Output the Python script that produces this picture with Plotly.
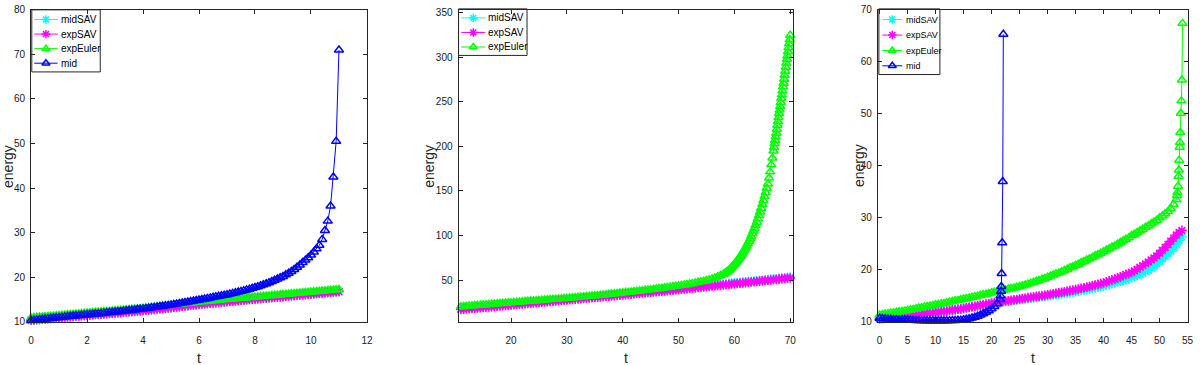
import plotly.graph_objects as go

# ---------------- data ----------------
# Panel 1: t = 0 .. 11, step 0.1
P1_T = [round(0.1 * i, 1) for i in range(111)]
P1_MIDSAV = [
    10.35, 10.41, 10.46, 10.52, 10.57, 10.63, 10.68, 10.74, 10.79, 10.85,
    10.90, 10.96, 11.01, 11.07, 11.12, 11.18, 11.23, 11.29, 11.34, 11.40,
    11.45, 11.50, 11.55, 11.61, 11.66, 11.71, 11.76, 11.81, 11.87, 11.92,
    11.97, 12.02, 12.08, 12.13, 12.18, 12.24, 12.29, 12.34, 12.39, 12.45,
    12.50, 12.56, 12.63, 12.69, 12.76, 12.82, 12.89, 12.95, 13.02, 13.08,
    13.15, 13.22, 13.30, 13.37, 13.45, 13.52, 13.60, 13.67, 13.75, 13.82,
    13.90, 13.96, 14.02, 14.08, 14.14, 14.20, 14.26, 14.32, 14.38, 14.44,
    14.50, 14.56, 14.62, 14.68, 14.74, 14.80, 14.86, 14.92, 14.98, 15.04,
    15.10, 15.15, 15.21, 15.26, 15.32, 15.37, 15.43, 15.48, 15.54, 15.59,
    15.65, 15.70, 15.76, 15.81, 15.87, 15.92, 15.98, 16.03, 16.09, 16.14,
    16.20, 16.25, 16.31, 16.36, 16.42, 16.47, 16.53, 16.58, 16.64, 16.69,
    16.75]
P1_EXPSAV = [
    10.38, 10.44, 10.49, 10.55, 10.60, 10.66, 10.71, 10.77, 10.82, 10.88,
    10.93, 10.99, 11.04, 11.10, 11.15, 11.21, 11.26, 11.32, 11.37, 11.43,
    11.48, 11.53, 11.59, 11.64, 11.69, 11.74, 11.80, 11.85, 11.90, 11.95,
    12.01, 12.06, 12.11, 12.17, 12.22, 12.28, 12.33, 12.38, 12.44, 12.49,
    12.55, 12.61, 12.68, 12.74, 12.81, 12.87, 12.94, 13.00, 13.07, 13.13,
    13.20, 13.27, 13.35, 13.42, 13.50, 13.57, 13.65, 13.72, 13.80, 13.87,
    13.95, 14.01, 14.07, 14.13, 14.19, 14.25, 14.31, 14.37, 14.43, 14.49,
    14.55, 14.61, 14.67, 14.73, 14.79, 14.85, 14.91, 14.97, 15.03, 15.09,
    15.15, 15.20, 15.26, 15.31, 15.37, 15.42, 15.48, 15.53, 15.59, 15.64,
    15.70, 15.75, 15.81, 15.86, 15.92, 15.97, 16.03, 16.08, 16.14, 16.19,
    16.25, 16.30, 16.36, 16.41, 16.47, 16.52, 16.58, 16.63, 16.69, 16.74,
    16.80]
P1_EXPEULER = [
    10.90, 10.96, 11.01, 11.07, 11.12, 11.18, 11.23, 11.29, 11.34, 11.40,
    11.45, 11.51, 11.56, 11.62, 11.67, 11.73, 11.78, 11.84, 11.89, 11.95,
    12.00, 12.05, 12.10, 12.15, 12.20, 12.25, 12.30, 12.35, 12.40, 12.45,
    12.50, 12.56, 12.61, 12.67, 12.72, 12.78, 12.83, 12.89, 12.94, 13.00,
    13.05, 13.12, 13.19, 13.26, 13.33, 13.40, 13.47, 13.54, 13.61, 13.68,
    13.75, 13.82, 13.89, 13.96, 14.03, 14.10, 14.17, 14.24, 14.31, 14.38,
    14.45, 14.51, 14.57, 14.63, 14.69, 14.75, 14.81, 14.87, 14.93, 14.99,
    15.05, 15.10, 15.16, 15.21, 15.27, 15.32, 15.38, 15.43, 15.49, 15.54,
    15.60, 15.65, 15.71, 15.76, 15.82, 15.87, 15.93, 15.98, 16.04, 16.09,
    16.15, 16.20, 16.26, 16.31, 16.37, 16.42, 16.48, 16.53, 16.59, 16.64,
    16.70, 16.75, 16.81, 16.86, 16.92, 16.97, 17.03, 17.08, 17.14, 17.19,
    17.25]
P1_MID = [
    10.30, 10.37, 10.44, 10.51, 10.58, 10.65, 10.72, 10.79, 10.86, 10.93,
    11.00, 11.06, 11.12, 11.18, 11.24, 11.30, 11.36, 11.42, 11.48, 11.54,
    11.60, 11.66, 11.72, 11.78, 11.84, 11.90, 11.96, 12.02, 12.08, 12.14,
    12.20, 12.27, 12.34, 12.41, 12.48, 12.55, 12.62, 12.69, 12.76, 12.83,
    12.90, 12.98, 13.07, 13.16, 13.25, 13.34, 13.43, 13.52, 13.61, 13.70,
    13.80, 13.90, 14.01, 14.12, 14.23, 14.34, 14.45, 14.56, 14.67, 14.78,
    14.90, 15.02, 15.14, 15.26, 15.38, 15.50, 15.62, 15.74, 15.86, 15.98,
    16.10, 16.24, 16.39, 16.54, 16.69, 16.84, 17.00, 17.17, 17.34, 17.52,
    17.70, 17.90, 18.11, 18.33, 18.56, 18.80, 19.05, 19.32, 19.60, 19.90,
    20.20, 20.55, 20.90, 21.30, 21.75, 22.25, 22.75, 23.30, 23.85, 24.40,
    25.00, 25.70, 26.40, 27.20, 28.50, 30.50, 32.60, 36.00, 42.50, 50.50,
    71.00]

# Panel 2: SAV schemes on t = 11 .. 70 step 0.5
P2_T_SAV = [11 + 0.5 * i for i in range(119)]
P2_MIDSAV = [
    17.6, 17.9, 18.2, 18.5, 18.8, 19.1, 19.3, 19.6, 19.9, 20.2,
    20.5, 20.8, 21.0, 21.3, 21.6, 21.9, 22.1, 22.4, 22.7, 23.0,
    23.3, 23.5, 23.8, 24.1, 24.4, 24.7, 24.9, 25.2, 25.5, 25.8,
    26.1, 26.4, 26.7, 27.0, 27.3, 27.5, 27.8, 28.1, 28.4, 28.7,
    29.0, 29.3, 29.5, 29.8, 30.1, 30.4, 30.7, 31.0, 31.3, 31.6,
    31.9, 32.2, 32.5, 32.7, 33.0, 33.3, 33.6, 33.8, 34.1, 34.4,
    34.7, 35.0, 35.3, 35.6, 35.9, 36.2, 36.5, 36.8, 37.1, 37.4,
    37.7, 38.0, 38.3, 38.6, 38.9, 39.2, 39.5, 39.8, 40.1, 40.4,
    40.7, 41.1, 41.4, 41.7, 42.0, 42.4, 42.7, 43.0, 43.3, 43.7,
    44.0, 44.3, 44.6, 45.0, 45.3, 45.6, 45.9, 46.3, 46.6, 46.9,
    47.2, 47.6, 47.9, 48.2, 48.5, 48.9, 49.2, 49.5, 49.8, 50.2,
    50.5, 50.8, 51.2, 51.5, 51.8, 52.2, 52.5, 52.8, 53.1]
P2_EXPSAV = [
    17.0, 17.3, 17.6, 17.8, 18.1, 18.4, 18.7, 18.9, 19.2, 19.5,
    19.8, 20.1, 20.3, 20.6, 20.9, 21.2, 21.4, 21.7, 22.0, 22.3,
    22.6, 22.8, 23.1, 23.4, 23.7, 24.0, 24.2, 24.5, 24.8, 25.1,
    25.3, 25.6, 25.9, 26.2, 26.5, 26.7, 27.0, 27.3, 27.6, 27.9,
    28.2, 28.5, 28.7, 29.0, 29.3, 29.6, 29.9, 30.2, 30.5, 30.8,
    31.1, 31.4, 31.7, 31.9, 32.2, 32.5, 32.8, 33.0, 33.3, 33.6,
    33.9, 34.2, 34.5, 34.8, 35.1, 35.4, 35.7, 36.0, 36.3, 36.6,
    36.9, 37.2, 37.5, 37.8, 38.1, 38.4, 38.7, 39.0, 39.3, 39.6,
    39.9, 40.3, 40.6, 40.9, 41.2, 41.6, 41.9, 42.2, 42.5, 42.9,
    43.2, 43.5, 43.8, 44.2, 44.5, 44.8, 45.1, 45.5, 45.8, 46.1,
    46.4, 46.8, 47.1, 47.4, 47.7, 48.1, 48.4, 48.7, 49.0, 49.4,
    49.7, 50.0, 50.4, 50.7, 51.0, 51.4, 51.7, 52.0, 52.3]
# expEuler: t = 11 .. 57.5 step 0.5, 58 .. 66.8 step 0.2, 67 .. 70 step 0.1
P2_T_EULER = ([11 + 0.5 * i for i in range(94)]
              + [round(58 + 0.2 * i, 1) for i in range(45)]
              + [round(67 + 0.1 * i, 1) for i in range(31)])
P2_EXPEULER = [
    20.0, 20.3, 20.5, 20.8, 21.0, 21.3, 21.6, 21.8, 22.1, 22.3,
    22.6, 22.8, 23.1, 23.4, 23.6, 23.9, 24.1, 24.4, 24.6, 24.9,
    25.1, 25.4, 25.6, 25.9, 26.1, 26.4, 26.6, 26.8, 27.0, 27.3,
    27.5, 27.8, 28.0, 28.3, 28.5, 28.8, 29.1, 29.3, 29.6, 29.9,
    30.2, 30.4, 30.7, 31.0, 31.3, 31.6, 31.8, 32.1, 32.4, 32.7,
    33.0, 33.3, 33.6, 34.0, 34.3, 34.6, 34.9, 35.3, 35.6, 35.9,
    36.3, 36.6, 37.0, 37.3, 37.7, 38.1, 38.4, 38.8, 39.2, 39.6,
    40.0, 40.4, 40.8, 41.2, 41.7, 42.1, 42.6, 43.0, 43.5, 44.0,
    44.5, 45.0, 45.6, 46.2, 46.8, 47.4, 48.0, 48.7, 49.5, 50.4,
    51.3, 52.4, 53.6, 55.0,
    56.6, 57.3, 58.1, 59.0, 60.0, 61.0, 62.2, 63.5, 64.9, 66.3,
    67.8, 69.3, 70.9, 72.5, 74.2, 76.0, 77.8, 79.7, 81.7, 83.8,
    86.0, 88.3, 90.7, 93.3, 96.1, 99.0, 101.9, 105.0, 108.2, 111.5,
    115.0, 118.7, 122.5, 126.5, 130.7, 135.0, 139.4, 143.8, 148.3, 153.0,
    158.0, 164.5, 171.5, 179.5, 187.0,
    195.0, 199.0, 203.0, 207.0, 211.0, 215.0, 219.5, 224.0, 228.0, 232.5,
    237.0, 241.0, 245.0, 249.5, 254.0, 258.0, 262.5, 267.0, 271.0, 275.5,
    280.0, 284.5, 289.0, 293.5, 298.0, 302.0, 306.5, 311.0, 315.5, 320.0,
    325.0]

# Panel 3: SAV schemes on t = 0 .. 54 step 0.5
P3_T_SAV = [0.5 * i for i in range(109)]
P3_MIDSAV = [
    10.55, 10.6, 10.65, 10.7, 10.75, 10.8, 10.85, 10.9, 10.95, 11.0,
    11.05, 11.1, 11.2, 11.25, 11.35, 11.4, 11.5, 11.55, 11.65, 11.7,
    11.75, 11.85, 11.9, 12.0, 12.05, 12.15, 12.25, 12.3, 12.4, 12.45,
    12.55, 12.65, 12.75, 12.85, 12.95, 13.05, 13.15, 13.25, 13.35, 13.45,
    13.55, 13.6, 13.7, 13.75, 13.85, 13.9, 13.95, 14.05, 14.1, 14.2,
    14.25, 14.3, 14.4, 14.45, 14.55, 14.6, 14.7, 14.75, 14.85, 14.9,
    15.0, 15.05, 15.15, 15.2, 15.3, 15.35, 15.45, 15.5, 15.6, 15.7,
    15.8, 15.9, 16.0, 16.1, 16.2, 16.3, 16.4, 16.55, 16.65, 16.8,
    16.9, 17.05, 17.2, 17.35, 17.5, 17.65, 17.8, 17.95, 18.1, 18.3,
    18.5, 18.7, 18.9, 19.15, 19.4, 19.65, 19.9, 20.3, 20.7, 21.1,
    21.6, 22.1, 22.6, 23.1, 23.6, 24.2, 24.9, 25.6, 26.3]
P3_EXPSAV = [
    10.6, 10.65, 10.7, 10.75, 10.8, 10.85, 10.9, 10.95, 11.0, 11.05,
    11.1, 11.15, 11.25, 11.3, 11.4, 11.45, 11.55, 11.6, 11.7, 11.75,
    11.8, 11.9, 11.95, 12.05, 12.1, 12.2, 12.3, 12.35, 12.45, 12.5,
    12.6, 12.7, 12.8, 12.9, 13.0, 13.1, 13.2, 13.3, 13.4, 13.5,
    13.6, 13.7, 13.75, 13.85, 13.9, 14.0, 14.05, 14.15, 14.25, 14.3,
    14.4, 14.5, 14.55, 14.65, 14.7, 14.8, 14.9, 14.95, 15.05, 15.1,
    15.2, 15.3, 15.4, 15.5, 15.6, 15.7, 15.8, 15.9, 16.0, 16.1,
    16.2, 16.3, 16.45, 16.55, 16.7, 16.8, 16.95, 17.1, 17.2, 17.35,
    17.5, 17.7, 17.85, 18.05, 18.25, 18.45, 18.65, 18.9, 19.1, 19.3,
    19.5, 19.8, 20.1, 20.5, 20.8, 21.15, 21.5, 21.9, 22.3, 22.7,
    23.2, 23.75, 24.3, 24.9, 25.5, 26.1, 26.7, 27.2, 27.6]
# expEuler: t = 0 .. 52.5 step 0.5, then the blow-up points
P3_T_EULER = [0.5 * i for i in range(106)] + [
    53.0, 53.1, 53.2, 53.3, 53.4, 53.45, 53.5, 53.6, 53.65, 53.7, 53.8, 53.9, 54.0, 54.1]
P3_EXPEULER = [
    11.3, 11.4, 11.5, 11.55, 11.7, 11.75, 11.85, 11.95, 12.0, 12.1,
    12.2, 12.35, 12.4, 12.5, 12.65, 12.7, 12.85, 12.95, 13.05, 13.15,
    13.3, 13.35, 13.5, 13.55, 13.7, 13.8, 13.9, 14.05, 14.1, 14.25,
    14.4, 14.5, 14.6, 14.75, 14.85, 14.95, 15.1, 15.2, 15.3, 15.45,
    15.6, 15.7, 15.8, 15.95, 16.05, 16.15, 16.3, 16.4, 16.5, 16.65,
    16.8, 16.95, 17.1, 17.3, 17.45, 17.6, 17.8, 17.95, 18.2, 18.35,
    18.6, 18.8, 19.0, 19.25, 19.4, 19.65, 19.9, 20.1, 20.4, 20.6,
    20.9, 21.1, 21.4, 21.6, 21.9, 22.15, 22.4, 22.7, 22.95, 23.2,
    23.5, 23.8, 24.05, 24.4, 24.6, 24.95, 25.25, 25.6, 25.9, 26.2,
    26.6, 26.85, 27.2, 27.5, 27.8, 28.2, 28.5, 28.85, 29.2, 29.55,
    30.0, 30.35, 30.8, 31.2, 31.8, 32.6,
    33.5, 34.3, 34.9, 36.1, 38.0, 39.2, 41.1, 43.6, 44.5, 46.4, 50.1, 52.5, 56.5, 67.4]
# mid: t = 0 .. 21.5 step 0.5, then the blow-up points
P3_T_MID = [0.5 * i for i in range(44)] + [21.6, 21.7, 21.75, 21.8, 21.9, 22.0, 22.1]
P3_MID = [
    10.7, 10.65, 10.6, 10.55, 10.5, 10.48, 10.45, 10.42, 10.4, 10.38,
    10.35, 10.33, 10.3, 10.28, 10.26, 10.24, 10.22, 10.21, 10.2, 10.2,
    10.2, 10.2, 10.2, 10.21, 10.22, 10.24, 10.26, 10.28, 10.3, 10.33,
    10.4, 10.5, 10.6, 10.75, 10.9, 11.1, 11.3, 11.55, 11.85, 12.15,
    12.5, 12.95, 13.5, 14.3,
    15.0, 15.9, 16.8, 19.3, 25.2, 37.0, 65.3]

NAMES = ["midSAV", "expSAV", "expEuler", "mid"]
COLORS = {"midSAV": "#00FFFF", "expSAV": "#FF00FF", "expEuler": "#00FF00", "mid": "#0000FF"}
SYMBOLS = {"midSAV": "asterisk-open", "expSAV": "asterisk-open",
           "expEuler": "triangle-up-open", "mid": "triangle-up-open"}

X1_TICKS = [0, 2, 4, 6, 8, 10, 12]
Y1_TICKS = [10, 20, 30, 40, 50, 60, 70, 80]
X2_TICKS = [20, 30, 40, 50, 60, 70]
Y2_TICKS = [50, 100, 150, 200, 250, 300, 350]
X3_TICKS = [0, 5, 10, 15, 20, 25, 30, 35, 40, 45, 50, 55]
Y3_TICKS = [10, 20, 30, 40, 50, 60, 70]

# ---------------- figure (layout constants in pixels) ----------------
W, H = 1200, 365
FONT = "Liberation Sans, Arial, Helvetica, sans-serif"
AX = "#262626"
TOP, BOT = 5, 326.7
MSIZE, MLW = 8, 1.5

fig = go.Figure()


def add(xs, ys, name, xa, ya):
    c = COLORS[name]
    fig.add_trace(go.Scatter(
        x=xs, y=ys, name=name, mode="lines+markers", showlegend=False,
        line=dict(color=c, width=1),
        marker=dict(symbol=SYMBOLS[name], size=MSIZE, color=c, line=dict(color=c, width=MLW)),
        xaxis=xa, yaxis=ya, cliponaxis=False))


add(P1_T, P1_MIDSAV, "midSAV", "x", "y")
add(P1_T, P1_EXPSAV, "expSAV", "x", "y")
add(P1_T, P1_EXPEULER, "expEuler", "x", "y")
add(P1_T, P1_MID, "mid", "x", "y")

add(P2_T_SAV, P2_MIDSAV, "midSAV", "x2", "y2")
add(P2_T_SAV, P2_EXPSAV, "expSAV", "x2", "y2")
add(P2_T_EULER, P2_EXPEULER, "expEuler", "x2", "y2")

add(P3_T_SAV, P3_MIDSAV, "midSAV", "x3", "y3")
add(P3_T_SAV, P3_EXPSAV, "expSAV", "x3", "y3")
add(P3_T_EULER, P3_EXPEULER, "expEuler", "x3", "y3")
add(P3_T_MID, P3_MID, "mid", "x3", "y3")


def px(xp):
    return xp / W


def py(yp):
    return 1 - yp / H


def axstyle(domain, rng, ticks, anchor, standoff):
    return dict(domain=domain, range=rng, tickvals=ticks, ticktext=[str(v) for v in ticks],
                anchor=anchor, showline=True, linecolor=AX, linewidth=1, mirror="ticks",
                ticks="inside", ticklen=4, tickcolor=AX, tickwidth=1,
                showgrid=False, zeroline=False, ticklabelstandoff=standoff,
                tickfont=dict(family=FONT, size=10, color="#1a1a1a"))


# ---- legends drawn by hand so that their compact MATLAB look is kept ----
LEGENDS = [
    dict(entries=NAMES, box=(29, 98, 5, 69), rows=[15, 30, 45, 60],
         line=(31.5, 55), text=56.5, font=10),
    dict(entries=NAMES[:3], box=(459, 528, 4, 52), rows=[13.3, 28.3, 43.3],
         line=(461.7, 486), text=486.3, font=10),
    dict(entries=NAMES, box=(882.5, 944, 4, 71.7), rows=[15, 31, 47, 62.7],
         line=(886, 906), text=907.5, font=9),
]

shapes, ann = [], []
for L in LEGENDS:
    x0, x1, y0, y1 = L["box"]
    shapes.append(dict(type="rect", xref="paper", yref="paper", layer="below",
                       x0=px(x0), x1=px(x1), y0=py(y1), y1=py(y0),
                       line=dict(color=AX, width=1), fillcolor="white"))
    mx, my, msym, mcol = [], [], [], []
    for name, yr in zip(L["entries"], L["rows"]):
        c = COLORS[name]
        shapes.append(dict(type="line", xref="paper", yref="paper", layer="below",
                           x0=px(L["line"][0]), x1=px(L["line"][1]), y0=py(yr), y1=py(yr),
                           line=dict(color=c, width=1)))
        ann.append(dict(text=name, x=px(L["text"]), y=py(yr), xref="paper", yref="paper",
                        xanchor="left", yanchor="middle", showarrow=False,
                        font=dict(family=FONT, size=L["font"], color="#000000")))
        mx.append((L["line"][0] + L["line"][1]) / 2)
        my.append(yr)
        msym.append(SYMBOLS[name])
        mcol.append(c)
    fig.add_trace(go.Scatter(
        x=mx, y=my, mode="markers", showlegend=False, hoverinfo="skip",
        marker=dict(symbol=msym, size=MSIZE - 1, color=mcol, line=dict(color=mcol, width=MLW)),
        xaxis="x4", yaxis="y4", cliponaxis=False))

for xc in [197.5, 627.5, 1037.5]:
    ann.append(dict(text="t", x=px(xc), y=py(364), xref="paper", yref="paper",
                    xanchor="center", yanchor="middle", showarrow=False,
                    font=dict(family=FONT, size=14, color=AX)))
for xc in [5, 429, 862.5]:
    ann.append(dict(text="energy", x=px(xc), y=py(166), xref="paper", yref="paper",
                    xanchor="center", yanchor="middle", showarrow=False, textangle=-90,
                    font=dict(family=FONT, size=14, color=AX)))

fig.update_layout(
    width=W, height=H, margin=dict(l=0, r=0, t=0, b=0, pad=0),
    paper_bgcolor="white", plot_bgcolor="rgba(0,0,0,0)",
    showlegend=False,
    xaxis=axstyle([px(28.3), px(366.7)], [0, 12], X1_TICKS, "y", 9),
    yaxis=axstyle([py(BOT), py(TOP)], [10, 80], Y1_TICKS, "x", 3),
    xaxis2=axstyle([px(459), px(796)], [10.6, 70.5], X2_TICKS, "y2", 9),
    yaxis2=axstyle([py(BOT), py(TOP)], [3, 353.5], Y2_TICKS, "x2", 3),
    xaxis3=axstyle([px(881.5), px(1193.5)], [-0.3, 55], X3_TICKS, "y3", 9),
    yaxis3=axstyle([py(BOT), py(TOP)], [10, 70], Y3_TICKS, "x3", 3),
    xaxis4=dict(domain=[0, 1], range=[0, W], visible=False, anchor="y4", fixedrange=True),
    yaxis4=dict(domain=[0, 1], range=[H, 0], visible=False, anchor="x4", fixedrange=True),
    shapes=shapes, annotations=ann,
)

fig.write_html("out.html", config={"displayModeBar": False},
               post_script="document.body.style.margin='0';")
